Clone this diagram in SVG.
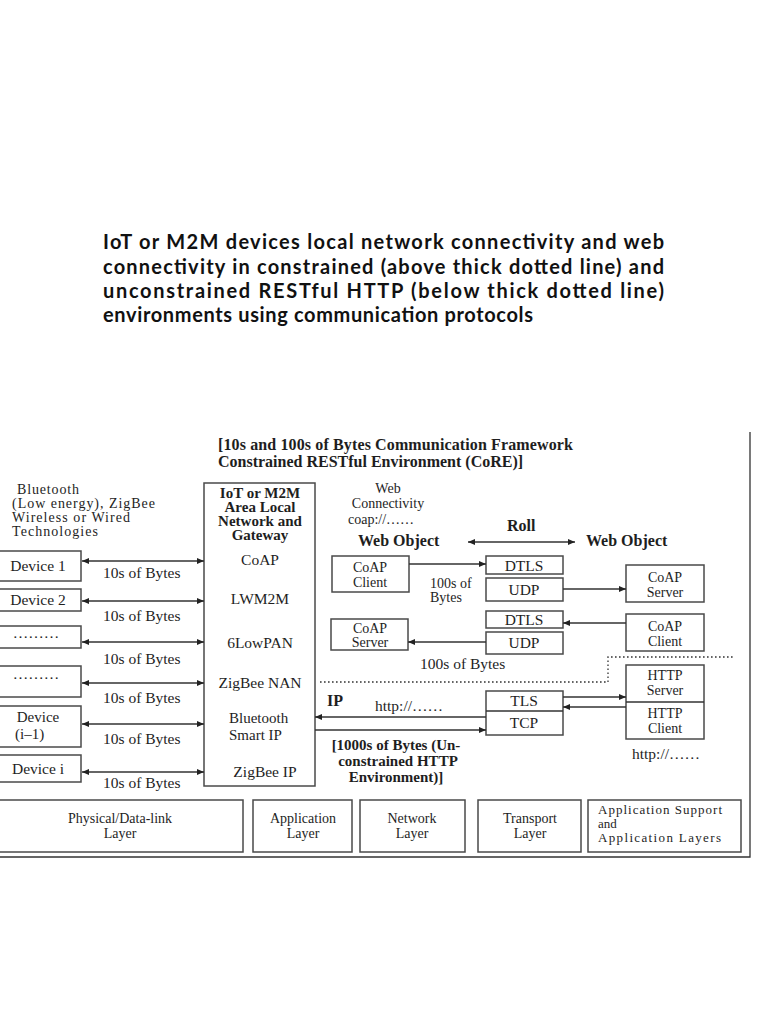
<svg xmlns="http://www.w3.org/2000/svg" width="768" height="1024" viewBox="0 0 768 1024">
<defs>
<marker id="ah" markerUnits="userSpaceOnUse" markerWidth="7" markerHeight="6" refX="7" refY="3" orient="auto-start-reverse"><path d="M0,0 L7,3 L0,6 z" fill="#222"/></marker>
<style>
.t{font-family:"Liberation Serif","Times New Roman",serif;font-size:15.5px;fill:#1e1e1e}
.b{font-weight:bold;font-size:16px}
.s{font-size:14px}
.m{font-size:15px}
.c{text-anchor:middle}
.box{fill:#fff;stroke:#4a4a4a;stroke-width:1.5}
.ln{fill:none;stroke:#333;stroke-width:1.3}
.dot{fill:none;stroke:#333;stroke-width:1.3;stroke-dasharray:1.6 2.4}
.title{font-family:Lato,"Open Sans",sans-serif;font-weight:bold;font-size:20px;fill:#111}
</style>
</defs>
<rect width="768" height="1024" fill="#fff"/>

<g id="title">
<text class="title" x="103" y="249" textLength="561" lengthAdjust="spacing">IoT or M2M devices local network connectivity and web</text>
<text class="title" x="103" y="274" textLength="561" lengthAdjust="spacing">connectivity in constrained (above thick dotted line) and</text>
<text class="title" x="103" y="298" textLength="561" lengthAdjust="spacing">unconstrained RESTful HTTP (below thick dotted line)</text>
<text class="title" x="103" y="322" textLength="430" lengthAdjust="spacing">environments using communication protocols</text>
</g>

<g id="frame">
<path class="ln" d="M750,432 V857 H0" stroke="#555" stroke-width="1.6"/>
</g>

<g id="header">
<text class="t b" x="218" y="450" textLength="355">[10s and 100s of Bytes Communication Framework</text>
<text class="t b" x="218" y="467">Constrained RESTful Environment (CoRE)]</text>
</g>

<g id="tech-label">
<text class="t s" x="17" y="494" textLength="62">Bluetooth</text>
<text class="t s" x="12" y="508" textLength="143">(Low energy), ZigBee</text>
<text class="t s" x="12" y="522" textLength="118">Wireless or Wired</text>
<text class="t s" x="12" y="536" textLength="86">Technologies</text>
</g>

<g id="gateway">
<rect class="box" x="204" y="483" width="111" height="303"/>
<text class="t b c m" x="260" y="498">IoT or M2M</text>
<text class="t b c m" x="260" y="512">Area Local</text>
<text class="t b c m" x="260" y="526">Network and</text>
<text class="t b c m" x="260" y="540">Gateway</text>
<text class="t c" x="260" y="565">CoAP</text>
<text class="t c" x="260" y="604">LWM2M</text>
<text class="t c" x="260" y="648">6LowPAN</text>
<text class="t c" x="260" y="688">ZigBee NAN</text>
<text class="t m" x="229" y="723">Bluetooth</text>
<text class="t m" x="229" y="740">Smart IP</text>
<text class="t c" x="265" y="777">ZigBee IP</text>
</g>

<g id="device1"><rect class="box" x="-2" y="551" width="83" height="30"/><text class="t c" x="38" y="571">Device 1</text></g>
<g id="device2"><rect class="box" x="-2" y="589" width="83" height="22"/><text class="t c" x="38" y="605">Device 2</text></g>
<g id="device3"><rect class="box" x="-2" y="626" width="83" height="22"/><text class="t c" x="36" y="638">………</text></g>
<g id="device4"><rect class="box" x="-2" y="666" width="83" height="31"/><text class="t c" x="36" y="679">………</text></g>
<g id="device-i1"><rect class="box" x="-2" y="706" width="83" height="41"/><text class="t c m" x="38" y="722">Device</text><text class="t m" x="15" y="739">(i–1)</text></g>
<g id="device-i"><rect class="box" x="-2" y="755" width="83" height="27"/><text class="t c" x="38" y="774">Device i</text></g>

<g id="web-conn">
<text class="t c s" x="388" y="493">Web</text>
<text class="t c s" x="388" y="508">Connectivity</text>
<text class="t s" x="348" y="524">coap://……</text>
<text class="t b" x="358" y="546">Web Object</text>
<text class="t b" x="507" y="531">Roll</text>
<text class="t b" x="586" y="546">Web Object</text>
</g>

<g id="coap-client-l"><rect class="box" x="332" y="556" width="77" height="36"/><text class="t c s" x="370" y="572">CoAP</text><text class="t c s" x="370" y="587">Client</text></g>
<g id="dtls1"><rect class="box" x="486" y="556" width="77" height="18"/><text class="t c" x="524" y="571">DTLS</text></g>
<g id="udp1"><rect class="box" x="486" y="578" width="77" height="23"/><text class="t c" x="524" y="595">UDP</text></g>
<g id="coap-server-r"><rect class="box" x="626" y="565" width="78" height="37"/><text class="t c s" x="665" y="582">CoAP</text><text class="t c s" x="665" y="597">Server</text></g>
<g id="dtls2"><rect class="box" x="486" y="611" width="77" height="17"/><text class="t c" x="524" y="625">DTLS</text></g>
<g id="udp2"><rect class="box" x="486" y="632" width="77" height="22"/><text class="t c" x="524" y="648">UDP</text></g>
<g id="coap-client-r"><rect class="box" x="626" y="614" width="78" height="37"/><text class="t c s" x="665" y="631">CoAP</text><text class="t c s" x="665" y="646">Client</text></g>
<g id="coap-server-l"><rect class="box" x="331" y="619" width="77" height="31"/><text class="t c s" x="370" y="633">CoAP</text><text class="t c s" x="370" y="647">Server</text></g>

<g id="tls-tcp">
<rect class="box" x="486" y="691" width="77" height="44"/>
<line class="ln" x1="486" y1="711" x2="563" y2="711" stroke="#4a4a4a" stroke-width="1.5"/>
<text class="t c" x="524" y="706">TLS</text>
<text class="t c" x="524" y="728">TCP</text>
</g>
<g id="http-node">
<rect class="box" x="626" y="665" width="78" height="74"/>
<line class="ln" x1="626" y1="702" x2="704" y2="702" stroke="#4a4a4a" stroke-width="1.5"/>
<text class="t c s" x="665" y="680">HTTP</text>
<text class="t c s" x="665" y="695">Server</text>
<text class="t c s" x="665" y="718">HTTP</text>
<text class="t c s" x="665" y="733">Client</text>
<text class="t" x="632" y="759">http://……</text>
</g>

<g id="labels">
<text class="t" x="103" y="578">10s of Bytes</text>
<text class="t" x="103" y="621">10s of Bytes</text>
<text class="t" x="103" y="664">10s of Bytes</text>
<text class="t" x="103" y="703">10s of Bytes</text>
<text class="t" x="103" y="744">10s of Bytes</text>
<text class="t" x="103" y="788">10s of Bytes</text>
<text class="t s" x="430" y="588">100s of</text>
<text class="t s" x="430" y="602">Bytes</text>
<text class="t" x="420" y="669">100s of Bytes</text>
<text class="t b" x="327" y="706">IP</text>
<text class="t" x="375" y="711">http://……</text>
<text class="t b c m" x="396" y="750">[1000s of Bytes (Un-</text>
<text class="t b c m" x="398" y="766">constrained HTTP</text>
<text class="t b c m" x="396" y="782">Environment)]</text>
</g>

<g id="connectors">
<line class="ln" x1="82" y1="561" x2="204" y2="561" marker-start="url(#ah)" marker-end="url(#ah)"/>
<line class="ln" x1="82" y1="601" x2="204" y2="601" marker-start="url(#ah)" marker-end="url(#ah)"/>
<line class="ln" x1="82" y1="642" x2="204" y2="642" marker-start="url(#ah)" marker-end="url(#ah)"/>
<line class="ln" x1="82" y1="683" x2="204" y2="683" marker-start="url(#ah)" marker-end="url(#ah)"/>
<line class="ln" x1="82" y1="724" x2="204" y2="724" marker-start="url(#ah)" marker-end="url(#ah)"/>
<line class="ln" x1="82" y1="772" x2="204" y2="772" marker-start="url(#ah)" marker-end="url(#ah)"/>
<line class="ln" x1="468" y1="542" x2="575" y2="542" marker-start="url(#ah)" marker-end="url(#ah)"/>
<line class="ln" x1="409" y1="564" x2="486" y2="564" marker-end="url(#ah)"/>
<line class="ln" x1="563" y1="589" x2="626" y2="589" marker-end="url(#ah)"/>
<line class="ln" x1="626" y1="623" x2="563" y2="623" marker-end="url(#ah)"/>
<line class="ln" x1="486" y1="642" x2="408" y2="642" marker-end="url(#ah)"/>
<line class="ln" x1="486" y1="717" x2="315" y2="717" marker-end="url(#ah)"/>
<line class="ln" x1="315" y1="730" x2="486" y2="730" marker-end="url(#ah)"/>
<line class="ln" x1="563" y1="697" x2="626" y2="697" marker-end="url(#ah)"/>
<line class="ln" x1="626" y1="707" x2="563" y2="707" marker-end="url(#ah)"/>
<path class="dot" d="M320,682 H608 V657 H735"/>
</g>

<g id="layer-phys"><rect class="box" x="-2" y="800" width="245" height="52"/><text class="t c s" x="120" y="823">Physical/Data-link</text><text class="t c s" x="120" y="838">Layer</text></g>
<g id="layer-app"><rect class="box" x="253" y="800" width="99" height="52"/><text class="t c s" x="303" y="823">Application</text><text class="t c s" x="303" y="838">Layer</text></g>
<g id="layer-net"><rect class="box" x="360" y="800" width="105" height="52"/><text class="t c s" x="412" y="823">Network</text><text class="t c s" x="412" y="838">Layer</text></g>
<g id="layer-trans"><rect class="box" x="478" y="800" width="103" height="52"/><text class="t c s" x="530" y="823">Transport</text><text class="t c s" x="530" y="838">Layer</text></g>
<g id="layer-appsup"><rect class="box" x="588" y="800" width="153" height="52" stroke="#333" stroke-width="1.8"/><text class="t" x="598" y="814" style="font-size:13px" textLength="124">Application Support</text><text class="t" x="598" y="828" style="font-size:13px">and</text><text class="t" x="598" y="842" style="font-size:13px" textLength="123">Application Layers</text></g>
</svg>
